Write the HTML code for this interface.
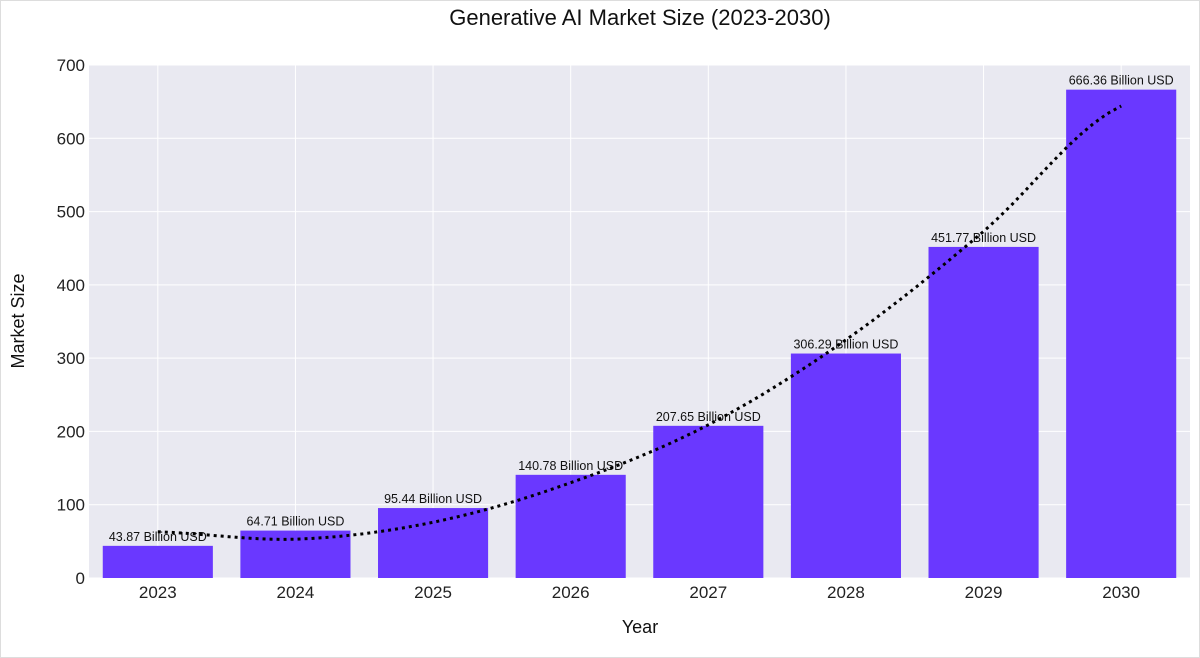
<!DOCTYPE html>
<html><head><meta charset="utf-8"><style>
html,body{margin:0;padding:0;background:#fff;}
svg{display:block;font-family:"Liberation Sans",Arial,sans-serif;}
</style></head><body>
<svg id="chart" width="1200" height="658" viewBox="0 0 1200 658">
<rect x="0.5" y="0.5" width="1199" height="657" fill="#fff" stroke="#ddd"/>
<text x="640" y="25" text-anchor="middle" font-size="22" fill="#111">Generative AI Market Size (2023-2030)</text>
<rect x="89" y="65" width="1101" height="513" fill="#e9e9f1"/>
<g id="grid"></g><g id="bars"></g><g id="labels"></g><g id="trend"></g><g id="axes"></g>
<text x="640" y="633" text-anchor="middle" font-size="18" fill="#111">Year</text>
<text x="24" y="321" text-anchor="middle" font-size="18" fill="#111" transform="rotate(-90 24 321)">Market Size</text>
</svg>
<script>
const categories=["2023","2024","2025","2026","2027","2028","2029","2030"];
const values=[43.87,64.71,95.44,140.78,207.65,306.29,451.77,666.36];
const valueLabels=["43.87 Billion USD","64.71 Billion USD","95.44 Billion USD","140.78 Billion USD","207.65 Billion USD","306.29 Billion USD","451.77 Billion USD","666.36 Billion USD"];
const trendValues=[63,53,76,130,209,325,473,644];
const yTicks=[0,100,200,300,400,500,600,700];
const NS="http://www.w3.org/2000/svg";
const L=89,R=1190,T=65,B=578,YMAX=700;
const step=(R-L)/categories.length;
const xc=i=>L+step*(i+0.5);
const y=v=>B-(v/YMAX)*(B-T);
function mk(tag,attrs,parent){const e=document.createElementNS(NS,tag);for(const k in attrs)e.setAttribute(k,attrs[k]);document.getElementById(parent).appendChild(e);return e;}
yTicks.forEach(t=>{
 const g=mk('line',{x1:L,x2:R,y1:y(t),y2:y(t),stroke:'#fff','stroke-width':1},'grid');
 
 
 const tx=mk('text',{x:L-4,y:y(t)+6,'text-anchor':'end','font-size':17,fill:'#222'},'axes');
 tx.textContent=t;
 
 
});
categories.forEach((c,i)=>{
 const g=mk('line',{x1:xc(i),x2:xc(i),y1:T,y2:B,stroke:'#fff','stroke-width':1},'grid');
 
 
 const bw=step*0.8;
 const b=mk('rect',{x:xc(i)-bw/2,y:y(values[i]),width:bw,height:B-y(values[i]),fill:'#6a38ff'},'bars');
 
 
 const lb=mk('text',{x:xc(i),y:y(values[i])-5,'text-anchor':'middle','font-size':12.5,fill:'#111'},'labels');
 lb.textContent=valueLabels[i];
 
 
 const tx=mk('text',{x:xc(i),y:B+20,'text-anchor':'middle','font-size':17,fill:'#222'},'axes');
 tx.textContent=c;
 
 
});
let d='';
for(let s=0;s<=70;s++){const f=s/70*(trendValues.length-1);const i=Math.min(Math.floor(f),trendValues.length-2);const u=f-i;
 // catmull-rom
 const p0=trendValues[Math.max(i-1,0)],p1=trendValues[i],p2=trendValues[i+1],p3=trendValues[Math.min(i+2,trendValues.length-1)];
 const v=0.5*((2*p1)+(-p0+p2)*u+(2*p0-5*p1+4*p2-p3)*u*u+(-p0+3*p1-3*p2+p3)*u*u*u);
 const xx=L+step*(0.5+f);d+=(s?'L':'M')+xx.toFixed(1)+','+y(v).toFixed(1);}
const tl=mk('path',{d:d,fill:'none',stroke:'#000','stroke-width':3,'stroke-dasharray':'3,4'},'trend');


</script>
</body></html>
